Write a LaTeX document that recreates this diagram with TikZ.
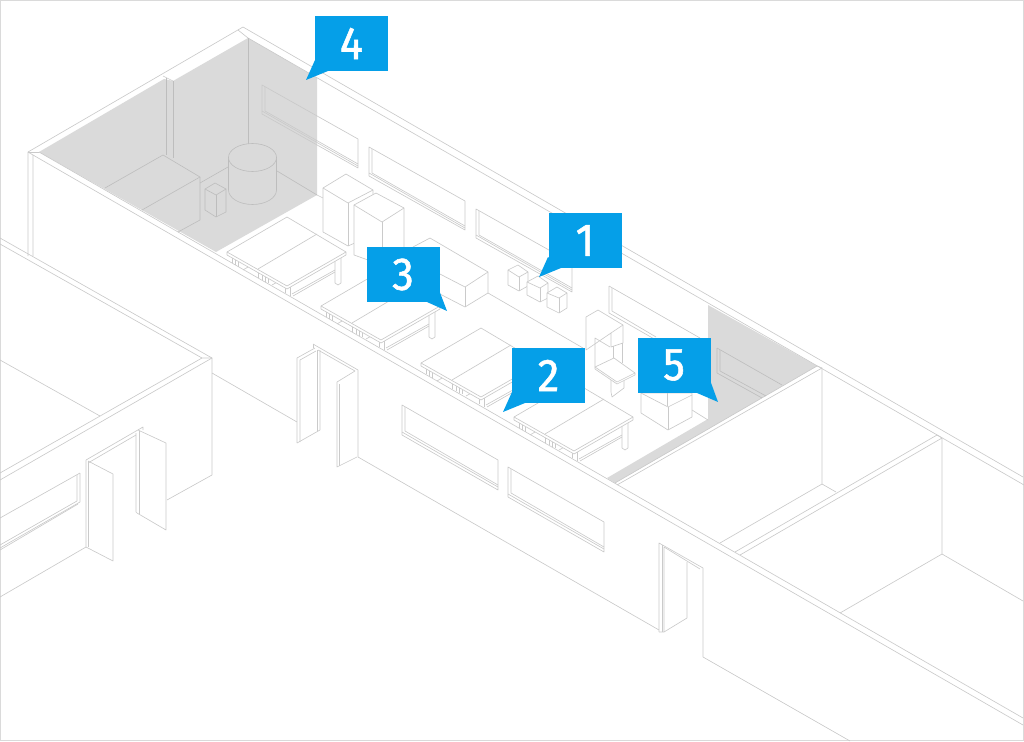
\documentclass[tikz,border=0pt]{standalone}
\usepackage{fontspec}
\newfontfamily\tagfont{Fira Sans}[FakeBold=1.2,FakeStretch=0.94]
\usepackage{tikz}
\definecolor{linegray}{HTML}{CACACA}
\definecolor{shadegray}{HTML}{DADADA}
\definecolor{tagblue}{HTML}{059FE8}
\tikzstyle{wall}=[draw=linegray,line width=0.65pt,line join=round]
\tikzstyle{inshade}=[draw=black!26,line width=0.6pt,line join=round]
\tikzstyle{solid block}=[wall,fill=white]
\tikzstyle{shade}=[fill=shadegray]
\tikzstyle{tag}=[fill=tagblue,text=white,minimum width=73pt,minimum height=55pt,inner sep=0pt,font=\fontsize{46}{46}\tagfont]
\tikzstyle{tail}=[fill=tagblue]

% one work table, written at the place of the first one
\newcommand{\worktable}[2]{
  \begin{scope}[shift={(#1,#2)}]
    \foreach \sx/\sa/\sb in {232/258/263,235/260/265,238/262/267,258/273/278,262/275/280,265/277/282,268/279/283,285/288/293,290/287/296}
      \draw[wall] (\sx,\sa) -- (\sx,\sb);
    \draw[wall] (243,270) -- (253,264);
    \draw[wall] (272,285) -- (281,280);
    \draw[wall] (293,296) -- (335,272);
    \draw[wall] (292,294) -- (335,270);
    \draw[solid block] (335,258) -- (335,283) -- (338,285) -- (341,283) -- (341,256);
    \draw[solid block] (227,252) -- (227,255) -- (287,289) -- (346,255) -- (346,252) -- (287,217) -- cycle;
    \draw[wall] (227,252) -- (287,286) -- (346,252);
    \draw[wall] (258,269) -- (317,234);
  \end{scope}
}
% a small crate: left, back, right, front, then the three lower corners
\newcommand{\crate}[7]{
  \draw[solid block] #1 -- #2 -- #3 -- #7 -- #6 -- #5 -- cycle;
  \draw[wall] #1 -- #4 -- #3;
  \draw[wall] #4 -- #6;
}

\begin{document}
\begin{tikzpicture}[x=1pt,y=-1pt]
  \useasboundingbox (0,0) rectangle (1024,741);
  \draw[linegray!70,line width=1pt] (0.5,0.5) rectangle (1023.5,740.5);

  % shaded rooms
  \fill[shade] (39,152) -- (164,79) -- (173,81) -- (248,38) -- (317,78) -- (317,195) -- (216,252) -- cycle;
  \fill[shade] (708,305) -- (817,366) -- (615,483) -- (607,478) -- (708,419) -- cycle;

  % outer walls
  \draw[wall] (28,256) -- (28,152) -- (243,27) -- (1023,477);
  \draw[wall] (248,38) -- (1024,485);
  \draw[wall] (238,30) -- (248,38);
  \draw[wall] (163,76) -- (173,81);
  \draw[inshade] (166,78) -- (166,155);
  \draw[inshade] (173,81) -- (173,158);
  \draw[inshade] (248,38) -- (248,145);
  \draw[wall] (28,152) -- (39,152);
  \draw[wall] (28,152) -- (33,155) -- (33,256);
  \draw[wall] (39,152) -- (1023,718);
  \draw[wall] (33,155) -- (1023,725);

  % cross walls on the right
  \draw[wall] (615,483) -- (817,366) -- (822,368);
  \draw[wall] (617,485) -- (822,368) -- (822,484) -- (720,543);
  \draw[wall] (822,484) -- (836,492);
  \draw[wall] (735,552) -- (937,435) -- (942,438);
  \draw[wall] (740,555) -- (942,438) -- (942,554) -- (840,613);
  \draw[wall] (942,554) -- (1023,601);

  % windows on the back wall
  \foreach \wx/\wy in {262/85,369/147,476/209}{
    \draw[wall] (\wx,\wy) -- (\wx+96,\wy+54) -- (\wx+96,\wy+83) -- (\wx,\wy+29) -- cycle;
    \draw[wall] (\wx+3,\wy+2) -- (\wx+3,\wy+26) -- (\wx+96,\wy+79);
    \draw[wall] (\wx,\wy+26) -- (\wx+96,\wy+81);
  }
  \draw[wall] (609,286) -- (609,313) -- (656,340);
  \draw[wall] (612,288) -- (612,311) -- (656,337);
  \draw[wall] (609,286) -- (700,338);
  \draw[inshade] (717,348) -- (717,373) -- (762,398);
  \draw[inshade] (720,350) -- (720,371) -- (766,396);
  \draw[inshade] (717,348) -- (782,385);

  % back room things
  \draw[inshade] (105,188) -- (163,155) -- (200,177) -- (142,210);
  \draw[inshade] (200,177) -- (200,220) -- (178,232);
  \draw[inshade] (200,183) -- (228,167);
  \draw[inshade] (277,171) -- (317,195);
  \draw[wall] (317,195) -- (323,198);
  \draw[inshade,fill=shadegray] (228.5,157) -- (228.5,190) arc[start angle=180,end angle=0,x radius=24,y radius=14.5] -- (276.5,157) -- cycle;
  \draw[inshade,fill=shadegray] (252.5,157.5) ellipse[x radius=24,y radius=14];
  \draw[inshade] (205,189) -- (215,183) -- (226,189) -- (226,212) -- (216,217) -- (205,210) -- cycle;
  \draw[inshade] (205,189) -- (216,195) -- (226,189);
  \draw[inshade] (216,195) -- (216,217);

  % cupboards and the long bench
  \draw[solid block] (323,188) -- (346,174) -- (373,190) -- (373,235) -- (348,246) -- (323,232) -- cycle;
  \draw[wall] (323,188) -- (348,203) -- (373,190);
  \draw[wall] (348,203) -- (348,246);
  \draw[solid block] (354,205) -- (376,193) -- (404,208) -- (404,250) -- (382,265) -- (354,255) -- cycle;
  \draw[wall] (354,205) -- (382,222) -- (404,208);
  \draw[wall] (382,222) -- (382,260);
  \draw[solid block] (413,247) -- (430,238) -- (488,272) -- (488,293) -- (465,307) -- (438,293) -- (438,273) -- cycle;
  \draw[wall] (438,273) -- (465,287) -- (488,272);
  \draw[wall] (465,287) -- (465,307);
  \draw[wall] (488,293) -- (583,348);

  % crates under the window
  \crate{(508,270)}{(518,265)}{(528,272)}{(519,277)}{(508,285)}{(519,291)}{(528,286)}
  \crate{(527,282)}{(538,276)}{(548,283)}{(540,288)}{(527,295)}{(540,302)}{(548,298)}
  \crate{(547,293)}{(557,287)}{(567,293)}{(559,298)}{(547,307)}{(559,313)}{(567,308)}

  % machine
  \draw[wall] (586,350) -- (586,317) -- (598,310) -- (623,325) -- (623,343) -- (611,347) -- (611,333) -- cycle;
  \draw[wall] (611,333) -- (623,325);
  \draw[wall] (595,367) -- (595,338) -- (610,347);
  \draw[wall] (613,346) -- (613,366);
  \draw[wall] (622,343) -- (622,363);
  \draw[wall] (611,380) -- (611,392) -- (612,397) -- (624,388) -- (624,378);
  \draw[solid block] (595,367) -- (614,358) -- (635,373) -- (635,375) -- (617,384) -- (595,369) -- cycle;
  \draw[wall] (595,367) -- (617,382) -- (635,373);

  % block by the end wall
  \draw[wall] (692,410) -- (708,420);
  \draw[solid block] (641,393) -- (692,393) -- (692,417) -- (668,430) -- (641,413) -- cycle;
  \draw[wall] (641,393) -- (668,407) -- (692,395);
  \draw[wall] (668,407) -- (668,430);
  \draw[wall] (667,393) -- (667,406);

  % tables
  \worktable{0}{0}
  \worktable{94}{54}
  \worktable{194}{111}
  \worktable{287}{165}

  % front wall, doors and windows
  \draw[wall] (212,373) -- (297,422);
  \draw[wall] (297,443) -- (297,358) -- (315,348);
  \draw[wall] (300,442) -- (300,360) -- (316,351);
  \draw[wall] (313,344) -- (358,370) -- (358,457);
  \draw[wall] (313,344) -- (313,348);
  \draw[wall] (318,350) -- (355,371) -- (337,382) -- (337,467) -- (357,457);
  \draw[wall] (339,384) -- (339,466);
  \draw[wall] (320,350) -- (320,430) -- (297,443);
  \draw[wall] (317,350) -- (317,431);
  \draw[wall] (358,457) -- (659,630);
  \foreach \wx/\wy in {402/405,508/467}{
    \draw[wall] (\wx,\wy) -- (\wx+96,\wy+55) -- (\wx+96,\wy+85) -- (\wx,\wy+30) -- cycle;
    \draw[wall] (\wx+3,\wy+2) -- (\wx+3,\wy+26) -- (\wx+96,\wy+80);
    \draw[wall] (\wx,\wy+27) -- (\wx+96,\wy+82);
  }
  \draw[wall] (659,632) -- (659,543) -- (703,568) -- (703,657) -- (850,741);
  \draw[wall] (664,632) -- (664,547) -- (700,569);
  \draw[wall] (662,632) -- (662,545);
  \draw[wall] (659,632) -- (664,632) -- (687,618) -- (687,562);

  % left building
  \draw[wall] (0,238) -- (212,358) -- (212,475) -- (167,500);
  \draw[wall] (0,244) -- (202,358) -- (212,358);
  \draw[wall] (202,358) -- (0,473);
  \draw[wall] (212,358) -- (0,480);
  \draw[wall] (0,360) -- (100,416);
  \draw[wall] (86,460) -- (143,427) -- (143,430);
  \draw[wall] (86,460) -- (86,547) -- (113,561) -- (113,474) -- (88,461);
  \draw[wall] (88,461) -- (88,547);
  \draw[wall] (88,463) -- (136,435);
  \draw[wall] (136,433) -- (136,512) -- (137,513) -- (166,530) -- (166,443) -- (138,430);
  \draw[wall] (139,431) -- (139,514);
  \draw[wall] (86,547) -- (0,597);
  \draw[wall] (80,473) -- (0,518);
  \draw[wall] (80,473) -- (80,502) -- (0,548);
  \draw[wall] (77,475) -- (77,501) -- (0,545);
  \draw[wall] (78,504) -- (0,550);

  % numbered tags
  \fill[tail] (315,60) -- (306,80) -- (328,71) -- cycle;
  \node[tag] (four) at (351.5,43.5) {4};
  \fill[tail] (439,290) -- (447,311) -- (427,302) -- cycle;
  \node[tag] (three) at (403,274.5) {3};
  \fill[tail] (548,257) -- (539,277) -- (561,268) -- cycle;
  \node[tag] (one) at (585,240.5) {1};
  \fill[tail] (512,392) -- (503,412) -- (525,403) -- cycle;
  \node[tag] (two) at (548.5,375.5) {2};
  \fill[tail] (710,380) -- (718,402) -- (697,393) -- cycle;
  \node[tag] (five) at (674,365) {5};
\end{tikzpicture}
\end{document}
